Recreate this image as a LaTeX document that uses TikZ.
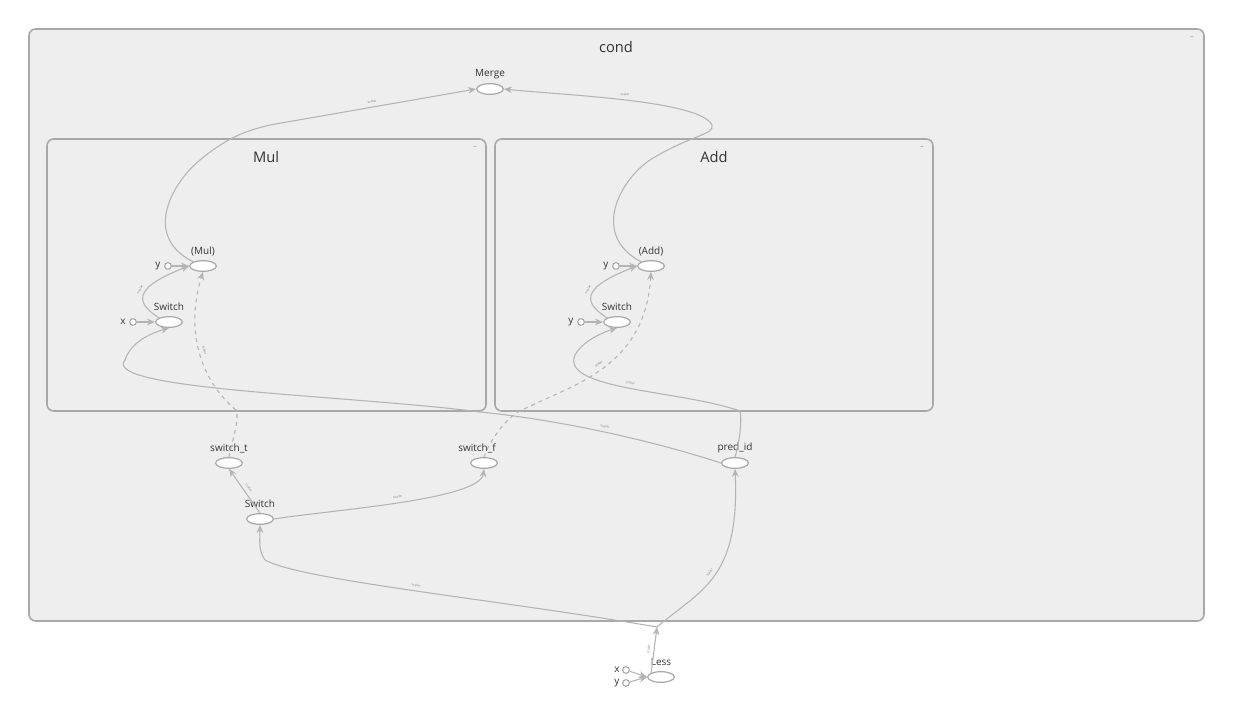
\documentclass[tikz,border=0pt]{standalone}
\usepackage{fontspec}
\setmainfont{Open Sans}
\usetikzlibrary{arrows.meta}
\definecolor{bx}{HTML}{EEEEEE}
\definecolor{bd}{HTML}{A8A8A8}
\definecolor{ed}{HTML}{B4B4B4}
\definecolor{tx}{HTML}{333333}
\begin{document}
\begin{tikzpicture}[x=0.75pt,y=-0.75pt,
  grp/.style={draw=bd,line width=1.2pt,fill=bx,rounded corners=5pt},
  op/.style={draw=bd,fill=white,line width=0.9pt,ellipse,minimum width=20pt,minimum height=8pt,inner sep=0pt},
  cst/.style={draw=bd,fill=white,line width=0.8pt,circle,minimum size=5pt,inner sep=0pt},
  lbl/.style={font=\fontsize{7.5}{8}\selectfont,text=tx},
  ttl/.style={font=\fontsize{11}{12}\selectfont,text=tx},
  e/.style={draw=ed,line width=0.8pt,-{Stealth[length=6pt,width=5pt]}},
  el/.style={font=\fontsize{2.5}{3}\selectfont,text=gray,sloped,above=-0.5pt}]
\usetikzlibrary{shapes.geometric}
\useasboundingbox (0,0) rectangle (1237,705);
\fill[white] (0,0) rectangle (1237,705);
\draw[grp] (29,29) rectangle (1204,621);
\node[ttl] (tcond) at (616,47) {cond};
\node[text=gray,font=\tiny] (m0) at (1192,37) {–};
\draw[grp] (47,139) rectangle (486,411);
\node[ttl] (tmul) at (266,157) {Mul};
\node[text=gray,font=\tiny] (m1) at (475,147) {–};
\draw[grp] (495,139) rectangle (933,411);
\node[ttl] (tadd) at (714,157) {Add};
\node[text=gray,font=\tiny] (m2) at (922,147) {–};
% nodes
\node[op] (merge) at (490,89) {}; \node[lbl] at (490,74) {Merge};
\node[op] (mul) at (203,266) {}; \node[lbl] at (203,251) {(Mul)};
\node[cst] (ym) at (168,266) {}; \node[lbl] at (158,266) {y};
\node[op] (swm) at (169,322) {}; \node[lbl] at (169,307) {Switch};
\node[cst] (xm) at (133,322) {}; \node[lbl] at (123,322) {x};
\node[op] (add) at (651,266) {}; \node[lbl] at (651,251) {(Add)};
\node[cst] (ya) at (616,266) {}; \node[lbl] at (606,266) {y};
\node[op] (swa) at (617,322) {}; \node[lbl] at (617,307) {Switch};
\node[cst] (ya2) at (581,322) {}; \node[lbl] at (571,322) {y};
\node[op] (swt) at (229,463) {}; \node[lbl] at (229,448) {switch\_t};
\node[op] (swf) at (484,463) {}; \node[lbl] at (477,448) {switch\_f};
\node[op] (pid) at (735,463) {}; \node[lbl] at (735,448) {pred\_id};
\node[op] (sw) at (260,519) {}; \node[lbl] at (260,504) {Switch};
\node[op] (less) at (661,677) {}; \node[lbl] at (661,662) {Less};
\node[cst] (xl) at (626,670) {}; \node[lbl] at (617,670) {x};
\node[cst] (yl) at (626,683) {}; \node[lbl] at (617,683) {y};
\coordinate (lo) at (657,627);
% edges
\draw[e] (ym) -- (mul);
\draw[e] (xm) -- (swm);
\draw[e] (ya) -- (add);
\draw[e] (ya2) -- (swa);
\draw[e] (xl) -- (less.west);
\draw[e] (yl) -- (less.west);
\draw[e] (less.north west) -- node[el,rotate=0]{scalar} (lo);
\draw[e] (mul.north west) .. controls (140,235) and (175,180) .. (200,160) .. controls (230,135) and (250,130) .. (270,125) -- node[el]{scalar} (merge.west);
\draw[e] (add.north west) .. controls (590,235) and (620,180) .. (650,160) .. controls (690,135) and (715,135) .. (712,125) .. controls (700,100) and (560,95) .. node[el]{scalar} (merge.east);
\draw[e] (swm.north west) .. controls (130,300) and (140,285) .. node[el]{scalar} (mul.west);
\draw[e] (swa.north west) .. controls (578,300) and (588,285) .. node[el]{scalar} (add.west);
\draw[e,dashed] (swt.north) .. controls (232,440) and (240,420) .. (236,410) .. controls (200,380) and (185,330) .. node[el]{scalar} (mul.south);
\draw[e,dashed] (swf.north) .. controls (490,440) and (505,420) .. (518,412) .. controls (570,385) and (645,370) .. node[el]{scalar} (add.south);
\draw[e] (pid.west) .. controls (650,440) and (560,420) .. node[el]{scalar} (480,412) .. controls (350,395) and (100,390) .. (125,360) .. controls (130,345) and (145,335) .. (swm.south);
\draw[e] (pid.north) .. controls (740,440) and (742,420) .. (740,411) .. controls (680,390) and (560,390) .. node[el]{scalar} (575,355) .. controls (580,345) and (595,335) .. (swa.south);
\draw[e] (sw.north) -- node[el]{scalar} (swt.south);
\draw[e] (sw.east) .. controls (330,510) and (480,500) .. node[el]{scalar} (swf.south);
\draw[e] (lo) .. controls (500,600) and (300,580) .. node[el]{scalar} (265,560) .. controls (258,550) and (260,540) .. (sw.south);
\draw[e] (lo) .. controls (700,590) and (740,580) .. node[el]{scalar} (pid.south);
\end{tikzpicture}
\end{document}
